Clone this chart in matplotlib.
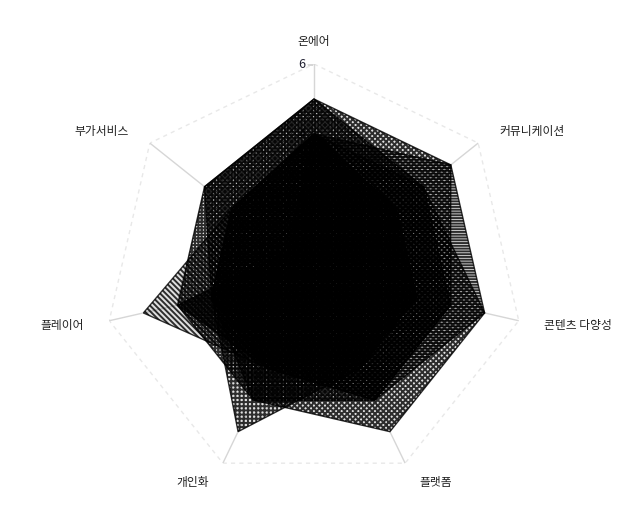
import numpy as np
import matplotlib
matplotlib.use('Agg')
import matplotlib.pyplot as plt
from matplotlib.transforms import offset_copy

plt.rcParams['font.family'] = ['Noto Sans CJK KR', 'DejaVu Sans']
plt.rcParams['hatch.linewidth'] = 1.4

# axes, clockwise from the top
labels = ['온에어', '커뮤니케이션', '콘텐츠 다양성', '플랫폼', '개인화', '플레이어', '부가서비스']

# series values
s1 = [4, 3, 3, 3, 3, 5, 3]
s2 = [4, 3, 3, 3, 5, 3, 3]
s3 = [5, 4, 4, 4, 4, 4, 4]
s4 = [4, 5, 5, 4, 3, 3, 3]
s5 = [5, 5, 4, 4, 3, 3, 4]
s6 = [4, 4, 5, 5, 4, 3, 3]
s7 = [4, 3, 3, 3, 3, 4, 1]
series = [s1, s2, s3, s4, s5, s6, s7]
hatches = ['\\\\\\\\\\\\', '++++', '+++++', '------', 'xxxxxx', 'xxxxxx', '++++++']

r_max = 6
r_ticks = [2, 4, 6]

n = len(labels)
theta = np.linspace(0, 2 * np.pi, n, endpoint=False)
theta_c = np.append(theta, theta[0])

fig = plt.figure(figsize=(6.35, 5.08), dpi=100)
ax = fig.add_axes([104 / 635, 24 / 508, 420 / 635, 420 / 508], projection='polar')
ax.set_theta_offset(np.pi / 2)
ax.set_theta_direction(-1)
ax.set_ylim(0, r_max)
ax.set_xticks([])
ax.set_yticks([])
ax.grid(False)
ax.spines['polar'].set_visible(False)

# heptagon rings + spokes
for r in r_ticks:
    ax.plot(theta_c, [r] * (n + 1), color='#e8e8e8', lw=1, ls=(0, (3, 3)), zorder=1)
for t in theta:
    ax.plot([t, t], [0, r_max], color='#d6d6d6', lw=1, zorder=1)

# tick labels on the top spoke (mostly covered by the fills)
tick_tr = offset_copy(ax.transData, fig=fig, x=-4, y=0, units='dots')
lab_tr = offset_copy(ax.transData, fig=fig, x=-12, y=0, units='dots')
for r in r_ticks:
    ax.plot([0], [r], marker='_', ms=5, mec='#d6d6d6', mew=1, transform=tick_tr, zorder=1)
    ax.text(0, r, str(r), transform=lab_tr, ha='center', va='center',
            fontsize=9, color='#222233', zorder=1)

# series
for vals, h in zip(series, hatches):
    v = list(vals) + [vals[0]]
    ax.fill(theta_c, v, facecolor=(0, 0, 0, 0.12), edgecolor=(0, 0, 0, 0.8),
            hatch=h, linewidth=1, zorder=3)

# axis labels
offsets = [(0, 23), (21, 12), (25, -5), (14, -19), (-14, -19), (-25, -5), (-21, 12)]
for t, lab, (dx, dy) in zip(theta, labels, offsets):
    ha = 'center' if dx == 0 else ('left' if dx > 0 else 'right')
    ax.annotate(lab, xy=(t, r_max), xytext=(dx, dy), textcoords='offset pixels',
                ha=ha, va='center', fontsize=8.5, color='#222222', annotation_clip=False)

fig.savefig('out.png', dpi=100)
